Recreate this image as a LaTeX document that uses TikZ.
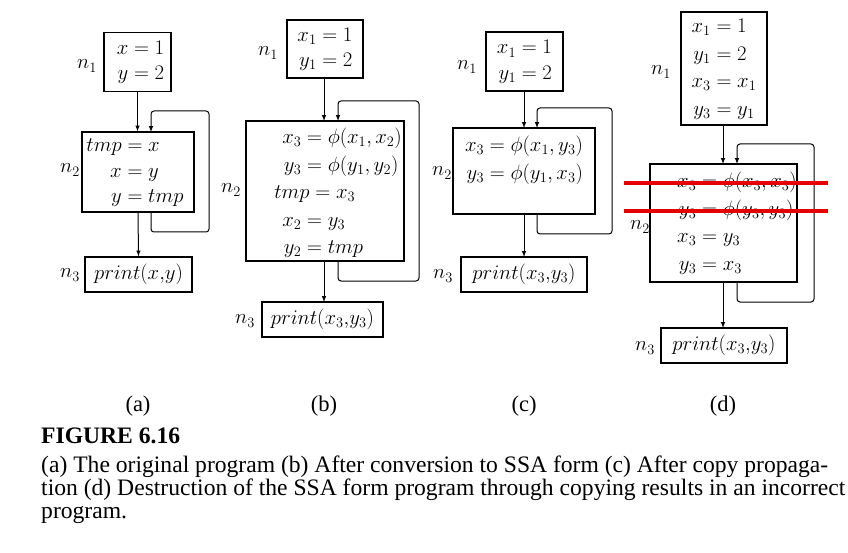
\documentclass[tikz,border=0pt]{standalone}
\usepackage{fontspec}
\setmainfont{Liberation Serif}
\begin{document}
\begin{tikzpicture}[x=1pt,y=-1pt,
  box/.style={draw,line width=1.3pt,inner sep=0pt},
  txt/.style={inner sep=0pt,font=\fontsize{22.5}{26}\selectfont},
  lab/.style={inner sep=0pt,font=\fontsize{22.5}{26}\selectfont},
  arr/.style={->,line width=1pt,>=latex},
  loop/.style={arr,rounded corners=3pt},
  captxt/.style={anchor=base west,inner sep=0pt,font=\fontsize{23.6}{28}\selectfont}]
\useasboundingbox (0,0) rectangle (848,553);
\def\tb#1{\renewcommand\arraystretch{0.97}\begin{tabular}{@{}r@{${}={}$}l@{}}#1\end{tabular}}
% (a)
\node[box,minimum width=67,minimum height=59] (a1) at (137.5,62) {};
\node[txt] (a1t) at ([xshift=3]a1) {\tb{$x$&$1$\\$y$&$2$}};
\node[box,minimum width=112,minimum height=80] (a2) at (138,172) {};
\node[txt] (a2t) at ([xshift=-3]a2) {\tb{$tmp$&$x$\\$x$&$y$\\$y$&$tmp$}};
\node[box,minimum width=107,minimum height=35] (a3) at (138.5,274.5) {};
\node[txt] (a3t) at (a3) {$print(x{,}y)$};
\node[lab] (a1l) at (87,66) {$n_1$};
\node[lab] (a2l) at (70,170) {$n_2$};
\node[lab] (a3l) at (70,275) {$n_3$};
\draw[arr] (a1) -- (a1 |- a2.north);
\draw[arr] (a2) ++(0,40) -- (a3.north);
\draw[loop] (151,212) -- (151,232) -- (209,232) -- (209,111) -- (151,111) -- (151,132);
\node[lab] (ac) at (138,406) {(a)};
% (b)
\node[box,minimum width=76,minimum height=58] (b1) at (325,49) {};
\node[txt] (b1t) at (b1) {\tb{$x_1$&$1$\\$y_1$&$2$}};
\node[box,minimum width=158,minimum height=140] (b2) at (325,191) {};
\node[txt,anchor=north east] (b2t) at (402,124) {\renewcommand\arraystretch{1.06}\begin{tabular}{@{}r@{${}={}$}l@{}}$x_3$&$\phi(x_1,x_2)$\\$y_3$&$\phi(y_1,y_2)$\\\multicolumn{2}{@{\hspace{-8pt}}l@{}}{$tmp=x_3$}\\$x_2$&$y_3$\\$y_2$&$tmp$\end{tabular}};
\node[box,minimum width=121,minimum height=35] (b3) at (322.5,319.5) {};
\node[txt] (b3t) at (b3) {$print(x_3{,}y_3)$};
\node[lab] (b1l) at (268,53) {$n_1$};
\node[lab] (b2l) at (231,190) {$n_2$};
\node[lab] (b3l) at (245,321) {$n_3$};
\draw[arr] (324,78) -- (324,121);
\draw[arr] (324,261) -- (324,302);
\draw[loop] (338,261) -- (338,281) -- (419,281) -- (419,101) -- (338,101) -- (338,121);
\node[lab] (bc) at (324,406) {(b)};
% (c)
\node[box,minimum width=77,minimum height=59] (c1) at (524.5,61.5) {};
\node[txt] (c1t) at (c1) {\tb{$x_1$&$1$\\$y_1$&$2$}};
\node[box,minimum width=142,minimum height=86] (c2) at (524,171) {};
\node[txt,anchor=north] (c2t) at (524,132) {\renewcommand\arraystretch{1.06}\begin{tabular}{@{}r@{${}={}$}l@{}}$x_3$&$\phi(x_1,y_3)$\\$y_3$&$\phi(y_1,x_3)$\end{tabular}};
\node[box,minimum width=126,minimum height=35] (c3) at (524,274.5) {};
\node[txt] (c3t) at (c3) {$print(x_3{,}y_3)$};
\node[lab] (c1l) at (467,67) {$n_1$};
\node[lab] (c2l) at (442,173) {$n_2$};
\node[lab] (c3l) at (443,276) {$n_3$};
\draw[arr] (524,91) -- (524,128);
\draw[arr] (524,214) -- (524,257);
\draw[loop] (537,214) -- (537,234) -- (612,234) -- (612,108) -- (537,108) -- (537,128);
\node[lab] (cc) at (524,406) {(c)};
% (d)
\node[box,minimum width=86,minimum height=113] (d1) at (724,68.5) {};
\node[txt] (d1t) at (d1) {\renewcommand\arraystretch{1.06}\begin{tabular}{@{}r@{${}={}$}l@{}}$x_1$&$1$\\$y_1$&$2$\\$x_3$&$x_1$\\$y_3$&$y_1$\end{tabular}};
\node[box,minimum width=147,minimum height=118] (d2) at (723.5,223) {};
\node[txt,anchor=north west] (d2t) at (677,168) {\renewcommand\arraystretch{1.06}\begin{tabular}{@{}r@{${}={}$}l@{}}$x_3$&$\phi(x_3,x_3)$\\$y_3$&$\phi(y_3,y_3)$\\$x_3$&$y_3$\\$y_3$&$x_3$\end{tabular}};
\node[box,minimum width=126,minimum height=35] (d3) at (724,345.5) {};
\node[txt] (d3t) at (d3) {$print(x_3{,}y_3)$};
\node[lab] (d1l) at (661,72) {$n_1$};
\node[lab] (d2l) at (640,227) {$n_2$};
\node[lab] (d3l) at (645,348) {$n_3$};
\draw[arr] (723,125) -- (723,164);
\draw[arr] (723,282) -- (723,328);
\draw[loop] (737,282) -- (737,302) -- (814,302) -- (814,144) -- (737,144) -- (737,164);
\draw[line width=4pt,red!90!black] (624,183) -- (828,183);
\draw[line width=4pt,red!90!black] (624,211) -- (828,211);
\node[lab] (dc) at (723,406) {(d)};
% caption
\node[captxt,font=\fontsize{23.6}{28}\selectfont\bfseries] (fig) at (41,443) {FIGURE 6.16};
\node[captxt] (l1) at (41,472) {(a) The original program (b) After conversion to SSA form (c) After copy propaga-};
\node[captxt] (l2) at (41,495) {tion (d) Destruction of the SSA form program through copying results in an incorrect};
\node[captxt] (l3) at (41,518) {program.};
\end{tikzpicture}
\end{document}
